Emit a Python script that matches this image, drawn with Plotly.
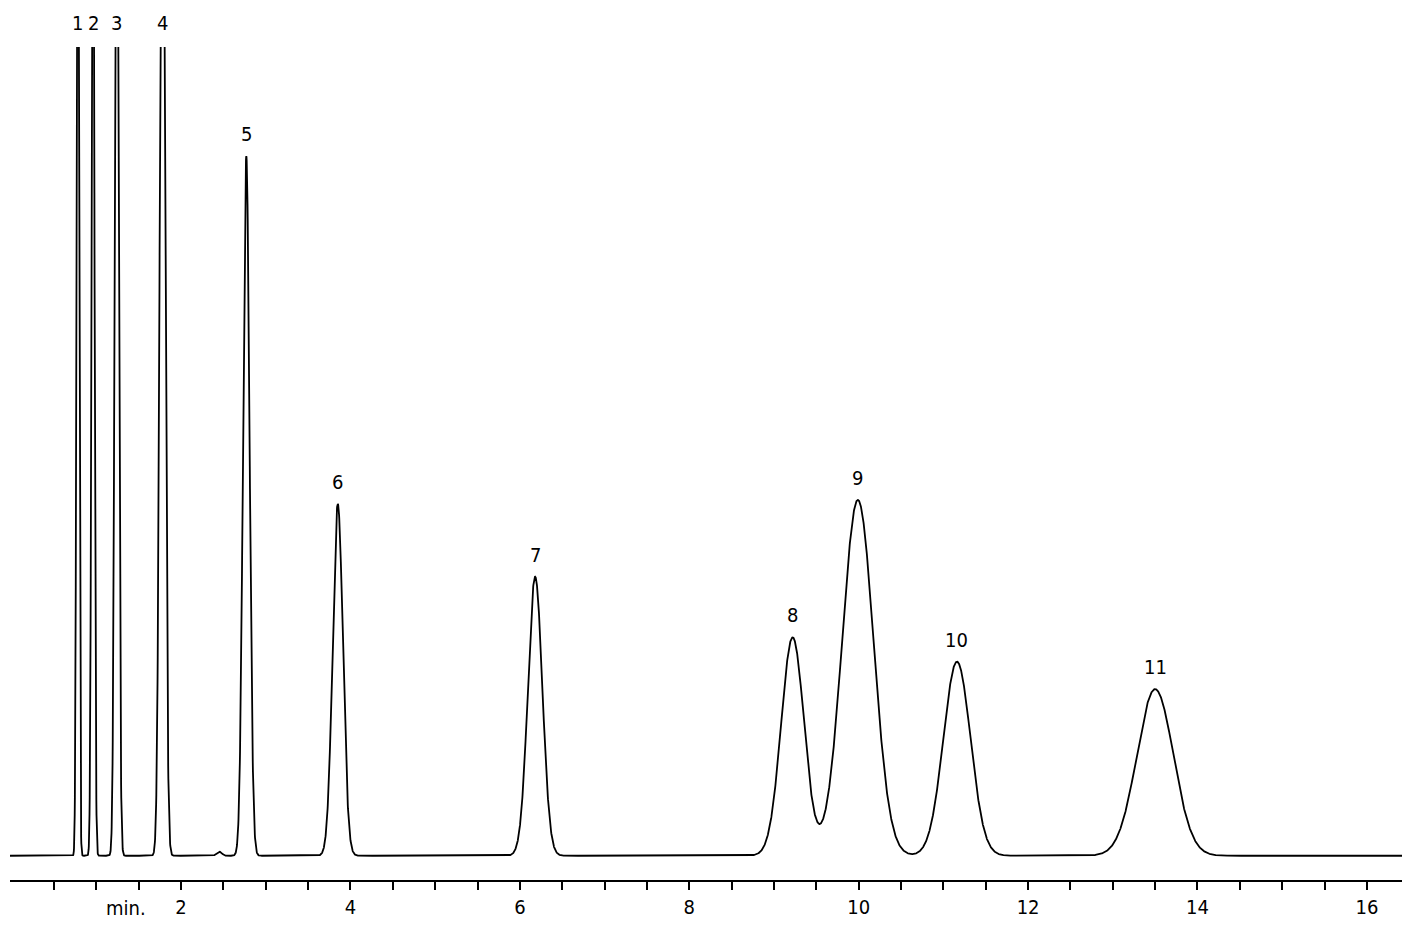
import numpy as np
import plotly.graph_objects as go

# Peak table (retention time in min, height in % of top, sigma in min)
peak_labels = ["1", "2", "3", "4", "5", "6", "7", "8", "9", "10", "11"]
peak_times = [0.78, 0.96, 1.24, 1.78, 2.77, 3.85, 6.18, 9.22, 9.99, 11.16, 13.50]
peak_heights = [140, 140, 140, 140, 86.5, 43.5, 34.5, 27.0, 44.0, 24.0, 20.6]
peak_sigmas = [0.014, 0.016, 0.022, 0.030, 0.038, 0.060, 0.085, 0.135, 0.185, 0.160, 0.215]
minor_times = [2.45]
minor_heights = [0.5]
minor_sigmas = [0.03]

tick_positions = [0.5 * i for i in range(1, 33)]
tick_labels = [str(int(v)) if (v % 2 == 0) else "" for v in tick_positions]

t = np.linspace(-0.02, 16.45, 8000)
signal = np.zeros_like(t)
for tr, h, s in zip(peak_times + minor_times, peak_heights + minor_heights, peak_sigmas + minor_sigmas):
    signal += h * np.exp(-0.5 * ((t - tr) / s) ** 2)

FONT = "DejaVu Sans Condensed, Liberation Sans, sans-serif"
fig = go.Figure(go.Scatter(x=t, y=signal, mode="lines",
                           line=dict(color="black", width=1.8), hoverinfo="skip"))

for lab, tr, h in zip(peak_labels, peak_times, peak_heights):
    fig.add_annotation(x=tr, y=min(h, 100), text=lab, showarrow=False,
                       yanchor="bottom", yshift=10 if h >= 100 else 8,
                       font=dict(family=FONT, size=20, color="black"))

fig.add_annotation(x=1.35, y=0, yref="paper", text="min.", showarrow=False,
                   yanchor="top", yshift=-14, font=dict(family=FONT, size=20, color="black"))

fig.update_layout(
    width=1410, height=929, paper_bgcolor="white", plot_bgcolor="white",
    margin=dict(l=2, r=13, t=39, b=57), showlegend=False,
    xaxis=dict(range=[-0.02, 16.45], showgrid=False, zeroline=False, showline=True,
               linecolor="black", linewidth=1.5, ticks="outside", ticklen=8,
               tickcolor="black", tickwidth=1.5, tickvals=tick_positions, ticktext=tick_labels,
               tickfont=dict(family=FONT, size=20, color="black")),
    yaxis=dict(range=[-3, 100], visible=False),
)
fig.write_html("out.html")
